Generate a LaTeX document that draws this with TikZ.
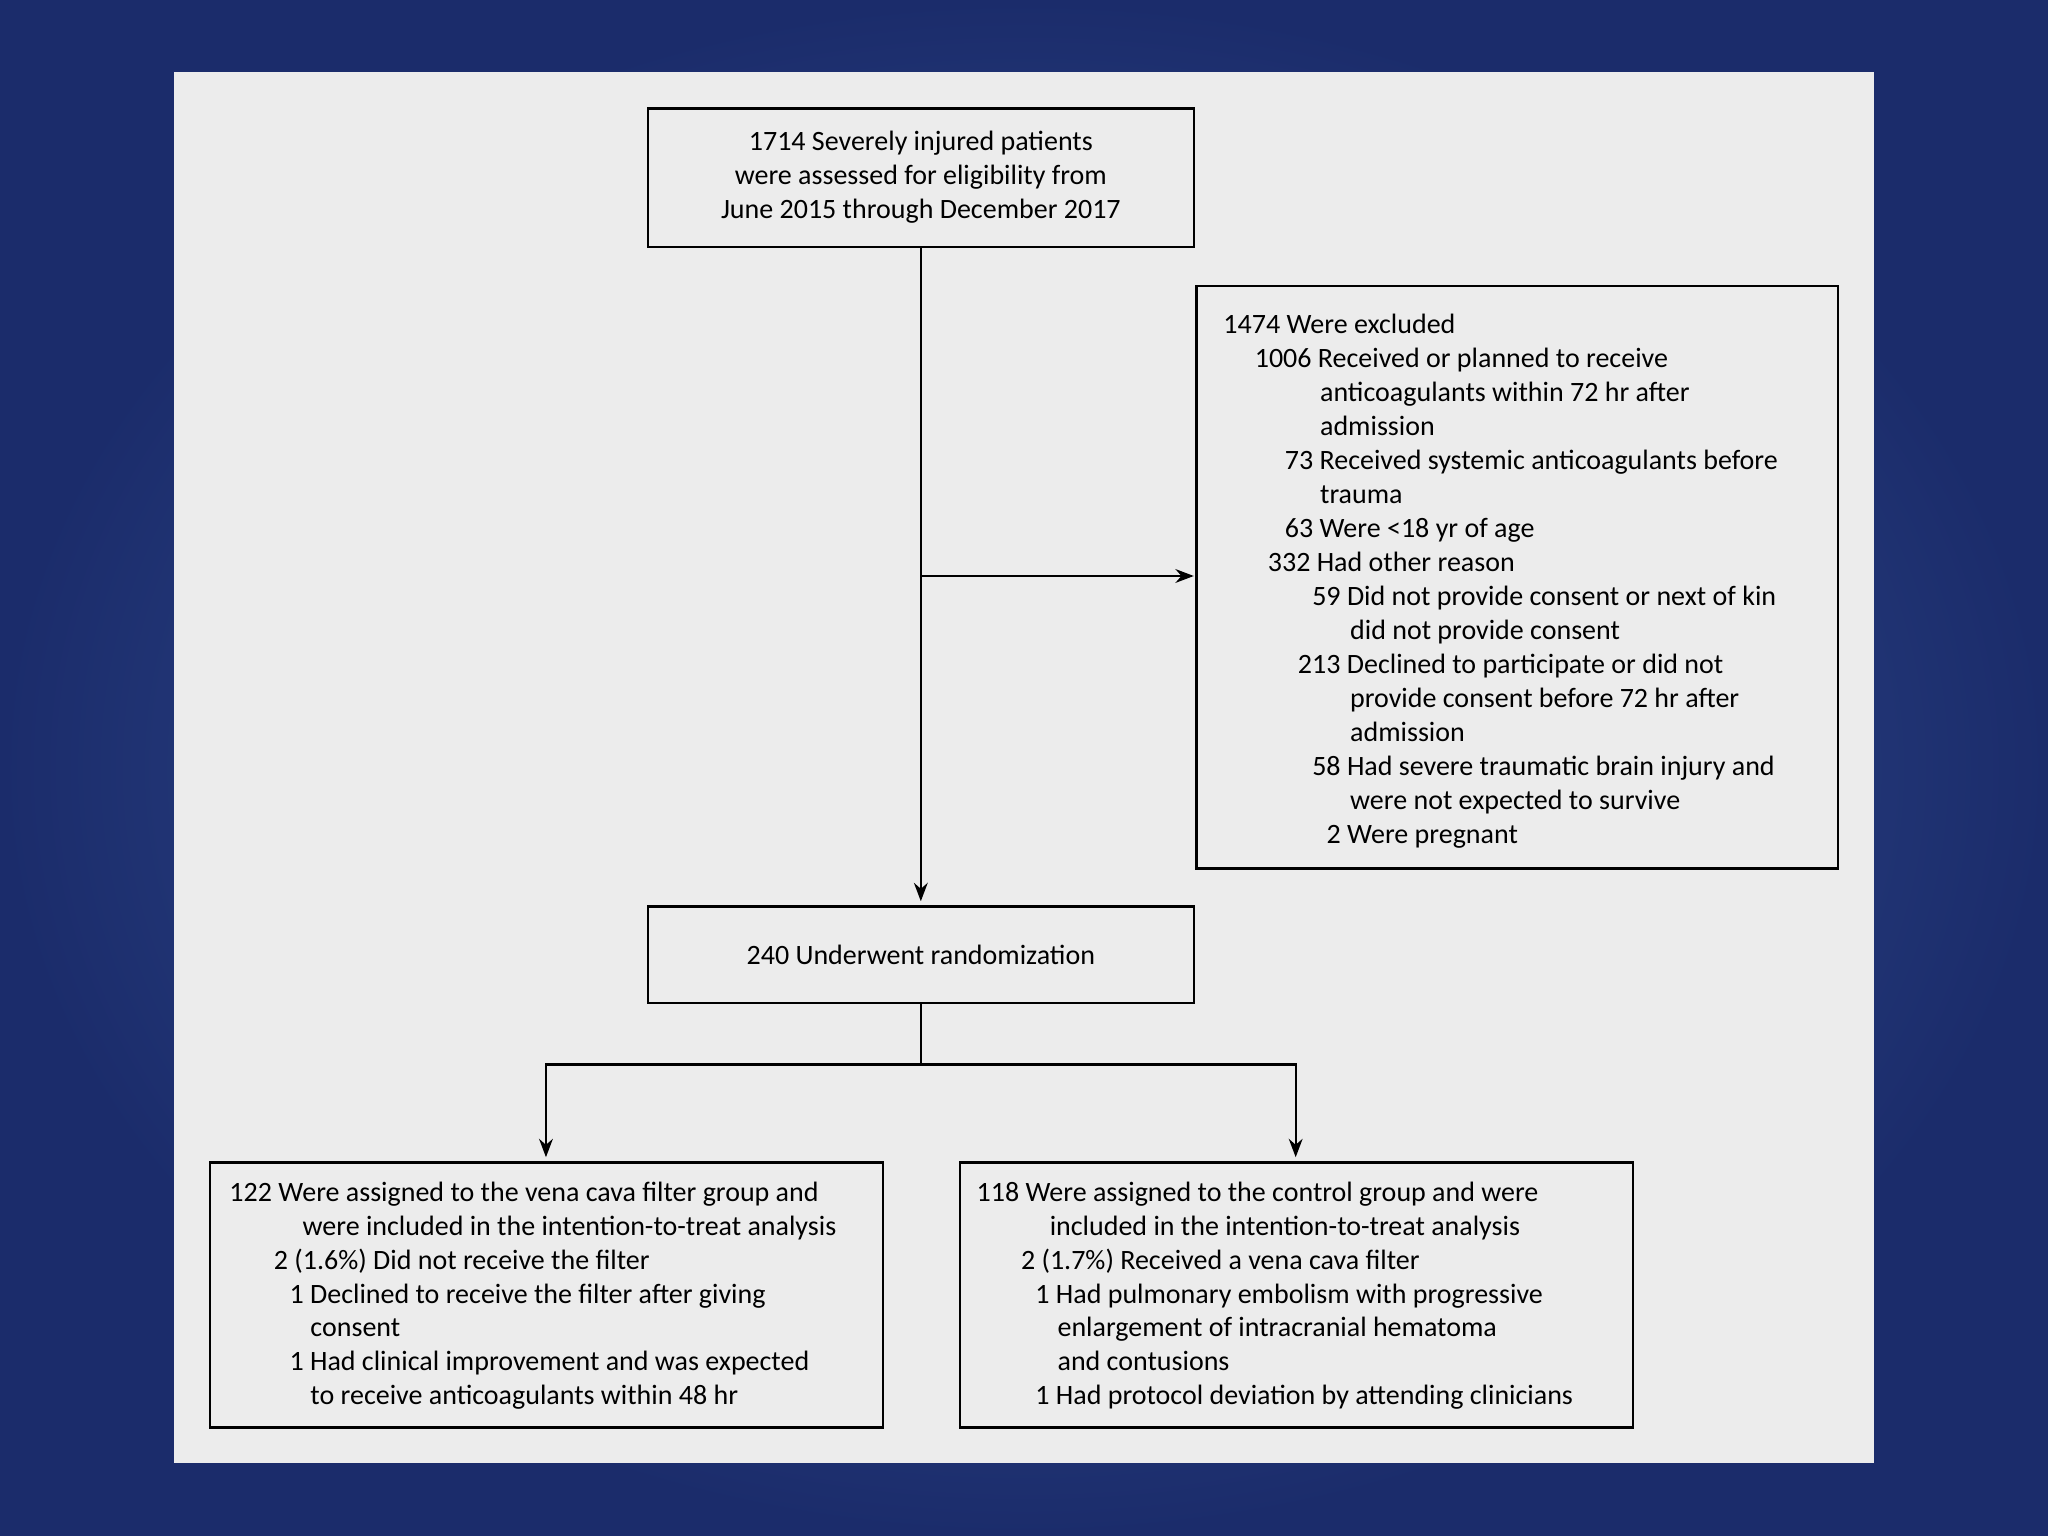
\documentclass[tikz,border=0pt]{standalone}
\usepackage{fontspec}
\setmainfont{Carlito}
\usetikzlibrary{arrows.meta}
\definecolor{navyin}{HTML}{3A5A9E}
\definecolor{navyout}{HTML}{1B2C6B}
\definecolor{paper}{HTML}{ECECEC}
\newcommand{\ind}[2]{\hspace*{#1cm}#2}
\begin{document}
\begin{tikzpicture}[x=1cm,y=-1cm,
    every node/.style={font=\fontsize{6.1}{7.4}\selectfont},
    flowbox/.style={draw,line width=0.5pt},
    txt/.style={anchor=north west,inner sep=0pt,align=left},
    flow/.style={line width=0.5pt,-{Stealth[length=4pt,width=3pt]}}]
% background
\shade[inner color=navyin,outer color=navyout] (0,0) rectangle (15.68,11.76);
\useasboundingbox (0,0) rectangle (15.68,11.76);
\fill[paper] (1.33,0.55) rectangle (14.35,11.20);
% boxes
\draw[flowbox] (4.96,0.83) rectangle (9.14,1.89);
\node[align=center] (screen) at (7.05,1.36) {1714 Severely injured patients\\were assessed for eligibility from\\June 2015 through December 2017};
\draw[flowbox] (9.16,2.19) rectangle (14.07,6.65);
\coordinate (excl) at (9.14,4.41);
\node[txt] (exclt) at (9.36,2.40) {1474 Were excluded\\
\ind{0.24}{1006 Received or planned to receive}\\
\ind{0.74}{anticoagulants within 72 hr after}\\
\ind{0.74}{admission}\\
\ind{0.47}{73 Received systemic anticoagulants before}\\
\ind{0.74}{trauma}\\
\ind{0.47}{63 Were <18 yr of age}\\
\ind{0.34}{332 Had other reason}\\
\ind{0.68}{59 Did not provide consent or next of kin}\\
\ind{0.97}{did not provide consent}\\
\ind{0.57}{213 Declined to participate or did not}\\
\ind{0.97}{provide consent before 72 hr after}\\
\ind{0.97}{admission}\\
\ind{0.68}{58 Had severe traumatic brain injury and}\\
\ind{0.97}{were not expected to survive}\\
\ind{0.79}{2 Were pregnant}};
\draw[flowbox] (4.96,6.94) rectangle (9.14,7.68);
\node (rand) at (7.05,7.31) {240 Underwent randomization};
\draw[flowbox] (1.61,8.90) rectangle (6.76,10.93);
\node[txt] (filt) at (1.75,9.04) {122 Were assigned to the vena cava filter group and\\
\ind{0.56}{were included in the intention-to-treat analysis}\\
\ind{0.34}{2 (1.6\%) Did not receive the filter}\\
\ind{0.46}{1 Declined to receive the filter after giving}\\
\ind{0.62}{consent}\\
\ind{0.46}{1 Had clinical improvement and was expected}\\
\ind{0.62}{to receive anticoagulants within 48 hr}};
\draw[flowbox] (7.35,8.90) rectangle (12.50,10.93);
\node[txt] (ctrl) at (7.47,9.04) {118 Were assigned to the control group and were\\
\ind{0.56}{included in the intention-to-treat analysis}\\
\ind{0.34}{2 (1.7\%) Received a vena cava filter}\\
\ind{0.45}{1 Had pulmonary embolism with progressive}\\
\ind{0.62}{enlargement of intracranial hematoma}\\
\ind{0.62}{and contusions}\\
\ind{0.45}{1 Had protocol deviation by attending clinicians}};
% connectors
\draw[flow] (7.05,1.89) -- (7.05,6.90);
\draw[flow] (7.05,4.41) -- (excl);
\draw[line width=0.5pt] (7.05,7.68) -- (7.05,8.15);
\draw[flow] (7.05,8.15) -| (4.18,8.86);
\draw[flow] (7.05,8.15) -| (9.92,8.86);
\end{tikzpicture}
\end{document}
